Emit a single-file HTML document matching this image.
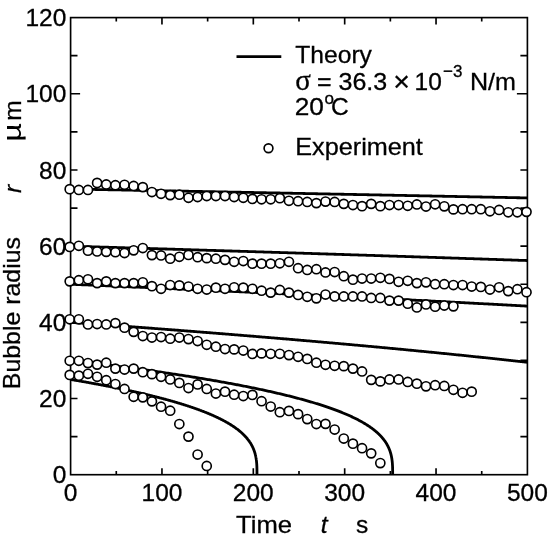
<!DOCTYPE html>
<html><head><meta charset="utf-8"><title>Bubble radius vs time</title>
<style>html,body{margin:0;padding:0;background:#fff}svg{display:block}text{font-family:"Liberation Sans","Noto Sans CJK JP",sans-serif;fill:#000}text.ser{font-family:"Liberation Serif",serif}text.cjk{font-family:"Noto Sans CJK JP",sans-serif}</style>
</head><body>
<svg width="550" height="539" viewBox="0 0 550 539">
<rect width="550" height="539" fill="#fff"/>
<g fill="none" stroke="#000" stroke-width="2.8" stroke-linejoin="round">
<path d="M70.60 189.01 L71.74 189.03 L72.88 189.06 L74.03 189.08 L75.17 189.10 L76.31 189.12 L77.45 189.14 L78.59 189.16 L79.74 189.19 L80.88 189.21 L82.02 189.23 L83.16 189.25 L84.30 189.27 L85.45 189.29 L86.59 189.32 L87.73 189.34 L88.87 189.36 L90.01 189.38 L91.16 189.40 L92.30 189.42 L93.44 189.45 L94.58 189.47 L95.72 189.49 L96.87 189.51 L98.01 189.53 L99.15 189.55 L100.29 189.58 L101.43 189.60 L102.58 189.62 L103.72 189.64 L104.86 189.66 L106.00 189.68 L107.14 189.71 L108.29 189.73 L109.43 189.75 L110.57 189.77 L111.71 189.79 L112.85 189.81 L114.00 189.84 L115.14 189.86 L116.28 189.88 L117.42 189.90 L118.56 189.92 L119.71 189.94 L120.85 189.97 L121.99 189.99 L123.13 190.01 L124.27 190.03 L125.42 190.05 L126.56 190.08 L127.70 190.10 L128.84 190.12 L129.98 190.14 L131.13 190.16 L132.27 190.18 L133.41 190.21 L134.55 190.23 L135.69 190.25 L136.84 190.27 L137.98 190.29 L139.12 190.32 L140.26 190.34 L141.40 190.36 L142.55 190.38 L143.69 190.40 L144.83 190.42 L145.97 190.45 L147.11 190.47 L148.26 190.49 L149.40 190.51 L150.54 190.53 L151.68 190.56 L152.82 190.58 L153.97 190.60 L155.11 190.62 L156.25 190.64 L157.39 190.66 L158.53 190.69 L159.68 190.71 L160.82 190.73 L161.96 190.75 L163.10 190.77 L164.24 190.80 L165.39 190.82 L166.53 190.84 L167.67 190.86 L168.81 190.88 L169.95 190.91 L171.10 190.93 L172.24 190.95 L173.38 190.97 L174.52 190.99 L175.66 191.01 L176.81 191.04 L177.95 191.06 L179.09 191.08 L180.23 191.10 L181.37 191.12 L182.52 191.15 L183.66 191.17 L184.80 191.19 L185.94 191.21 L187.08 191.23 L188.23 191.26 L189.37 191.28 L190.51 191.30 L191.65 191.32 L192.79 191.34 L193.94 191.37 L195.08 191.39 L196.22 191.41 L197.36 191.43 L198.50 191.45 L199.65 191.48 L200.79 191.50 L201.93 191.52 L203.07 191.54 L204.21 191.56 L205.36 191.59 L206.50 191.61 L207.64 191.63 L208.78 191.65 L209.92 191.67 L211.07 191.70 L212.21 191.72 L213.35 191.74 L214.49 191.76 L215.63 191.78 L216.78 191.81 L217.92 191.83 L219.06 191.85 L220.20 191.87 L221.34 191.89 L222.49 191.92 L223.63 191.94 L224.77 191.96 L225.91 191.98 L227.05 192.00 L228.20 192.03 L229.34 192.05 L230.48 192.07 L231.62 192.09 L232.76 192.11 L233.91 192.14 L235.05 192.16 L236.19 192.18 L237.33 192.20 L238.47 192.23 L239.62 192.25 L240.76 192.27 L241.90 192.29 L243.04 192.31 L244.18 192.34 L245.33 192.36 L246.47 192.38 L247.61 192.40 L248.75 192.42 L249.89 192.45 L251.04 192.47 L252.18 192.49 L253.32 192.51 L254.46 192.54 L255.60 192.56 L256.75 192.58 L257.89 192.60 L259.03 192.62 L260.17 192.65 L261.31 192.67 L262.46 192.69 L263.60 192.71 L264.74 192.73 L265.88 192.76 L267.02 192.78 L268.17 192.80 L269.31 192.82 L270.45 192.85 L271.59 192.87 L272.73 192.89 L273.88 192.91 L275.02 192.93 L276.16 192.96 L277.30 192.98 L278.44 193.00 L279.59 193.02 L280.73 193.05 L281.87 193.07 L283.01 193.09 L284.15 193.11 L285.30 193.13 L286.44 193.16 L287.58 193.18 L288.72 193.20 L289.86 193.22 L291.01 193.25 L292.15 193.27 L293.29 193.29 L294.43 193.31 L295.57 193.34 L296.72 193.36 L297.86 193.38 L299.00 193.40 L300.14 193.42 L301.28 193.45 L302.43 193.47 L303.57 193.49 L304.71 193.51 L305.85 193.54 L306.99 193.56 L308.14 193.58 L309.28 193.60 L310.42 193.62 L311.56 193.65 L312.70 193.67 L313.85 193.69 L314.99 193.71 L316.13 193.74 L317.27 193.76 L318.41 193.78 L319.56 193.80 L320.70 193.83 L321.84 193.85 L322.98 193.87 L324.12 193.89 L325.27 193.92 L326.41 193.94 L327.55 193.96 L328.69 193.98 L329.83 194.01 L330.98 194.03 L332.12 194.05 L333.26 194.07 L334.40 194.09 L335.54 194.12 L336.69 194.14 L337.83 194.16 L338.97 194.18 L340.11 194.21 L341.25 194.23 L342.40 194.25 L343.54 194.27 L344.68 194.30 L345.82 194.32 L346.96 194.34 L348.11 194.36 L349.25 194.39 L350.39 194.41 L351.53 194.43 L352.67 194.45 L353.82 194.48 L354.96 194.50 L356.10 194.52 L357.24 194.54 L358.38 194.57 L359.53 194.59 L360.67 194.61 L361.81 194.63 L362.95 194.66 L364.09 194.68 L365.24 194.70 L366.38 194.72 L367.52 194.75 L368.66 194.77 L369.80 194.79 L370.95 194.81 L372.09 194.84 L373.23 194.86 L374.37 194.88 L375.51 194.90 L376.66 194.93 L377.80 194.95 L378.94 194.97 L380.08 194.99 L381.22 195.02 L382.37 195.04 L383.51 195.06 L384.65 195.08 L385.79 195.11 L386.93 195.13 L388.08 195.15 L389.22 195.17 L390.36 195.20 L391.50 195.22 L392.64 195.24 L393.79 195.26 L394.93 195.29 L396.07 195.31 L397.21 195.33 L398.35 195.35 L399.50 195.38 L400.64 195.40 L401.78 195.42 L402.92 195.45 L404.06 195.47 L405.21 195.49 L406.35 195.51 L407.49 195.54 L408.63 195.56 L409.77 195.58 L410.92 195.60 L412.06 195.63 L413.20 195.65 L414.34 195.67 L415.48 195.69 L416.63 195.72 L417.77 195.74 L418.91 195.76 L420.05 195.78 L421.19 195.81 L422.34 195.83 L423.48 195.85 L424.62 195.88 L425.76 195.90 L426.90 195.92 L428.05 195.94 L429.19 195.97 L430.33 195.99 L431.47 196.01 L432.61 196.03 L433.76 196.06 L434.90 196.08 L436.04 196.10 L437.18 196.13 L438.32 196.15 L439.47 196.17 L440.61 196.19 L441.75 196.22 L442.89 196.24 L444.03 196.26 L445.18 196.28 L446.32 196.31 L447.46 196.33 L448.60 196.35 L449.74 196.38 L450.89 196.40 L452.03 196.42 L453.17 196.44 L454.31 196.47 L455.45 196.49 L456.60 196.51 L457.74 196.54 L458.88 196.56 L460.02 196.58 L461.16 196.60 L462.31 196.63 L463.45 196.65 L464.59 196.67 L465.73 196.69 L466.87 196.72 L468.02 196.74 L469.16 196.76 L470.30 196.79 L471.44 196.81 L472.58 196.83 L473.73 196.85 L474.87 196.88 L476.01 196.90 L477.15 196.92 L478.29 196.95 L479.44 196.97 L480.58 196.99 L481.72 197.01 L482.86 197.04 L484.00 197.06 L485.15 197.08 L486.29 197.11 L487.43 197.13 L488.57 197.15 L489.71 197.17 L490.86 197.20 L492.00 197.22 L493.14 197.24 L494.28 197.27 L495.42 197.29 L496.57 197.31 L497.71 197.34 L498.85 197.36 L499.99 197.38 L501.13 197.40 L502.28 197.43 L503.42 197.45 L504.56 197.47 L505.70 197.50 L506.84 197.52 L507.99 197.54 L509.13 197.56 L510.27 197.59 L511.41 197.61 L512.55 197.63 L513.70 197.66 L514.84 197.68 L515.98 197.70 L517.12 197.73 L518.26 197.75 L519.41 197.77 L520.55 197.79 L521.69 197.82 L522.83 197.84 L523.97 197.86 L525.12 197.89 L526.26 197.91 L527.40 197.93"/>
<path d="M70.60 246.15 L71.74 246.18 L72.88 246.22 L74.03 246.25 L75.17 246.29 L76.31 246.32 L77.45 246.35 L78.59 246.39 L79.74 246.42 L80.88 246.45 L82.02 246.49 L83.16 246.52 L84.30 246.56 L85.45 246.59 L86.59 246.62 L87.73 246.66 L88.87 246.69 L90.01 246.73 L91.16 246.76 L92.30 246.79 L93.44 246.83 L94.58 246.86 L95.72 246.90 L96.87 246.93 L98.01 246.96 L99.15 247.00 L100.29 247.03 L101.43 247.07 L102.58 247.10 L103.72 247.13 L104.86 247.17 L106.00 247.20 L107.14 247.24 L108.29 247.27 L109.43 247.30 L110.57 247.34 L111.71 247.37 L112.85 247.41 L114.00 247.44 L115.14 247.47 L116.28 247.51 L117.42 247.54 L118.56 247.58 L119.71 247.61 L120.85 247.65 L121.99 247.68 L123.13 247.71 L124.27 247.75 L125.42 247.78 L126.56 247.82 L127.70 247.85 L128.84 247.89 L129.98 247.92 L131.13 247.95 L132.27 247.99 L133.41 248.02 L134.55 248.06 L135.69 248.09 L136.84 248.13 L137.98 248.16 L139.12 248.19 L140.26 248.23 L141.40 248.26 L142.55 248.30 L143.69 248.33 L144.83 248.37 L145.97 248.40 L147.11 248.44 L148.26 248.47 L149.40 248.50 L150.54 248.54 L151.68 248.57 L152.82 248.61 L153.97 248.64 L155.11 248.68 L156.25 248.71 L157.39 248.75 L158.53 248.78 L159.68 248.81 L160.82 248.85 L161.96 248.88 L163.10 248.92 L164.24 248.95 L165.39 248.99 L166.53 249.02 L167.67 249.06 L168.81 249.09 L169.95 249.13 L171.10 249.16 L172.24 249.20 L173.38 249.23 L174.52 249.27 L175.66 249.30 L176.81 249.33 L177.95 249.37 L179.09 249.40 L180.23 249.44 L181.37 249.47 L182.52 249.51 L183.66 249.54 L184.80 249.58 L185.94 249.61 L187.08 249.65 L188.23 249.68 L189.37 249.72 L190.51 249.75 L191.65 249.79 L192.79 249.82 L193.94 249.86 L195.08 249.89 L196.22 249.93 L197.36 249.96 L198.50 250.00 L199.65 250.03 L200.79 250.07 L201.93 250.10 L203.07 250.14 L204.21 250.17 L205.36 250.21 L206.50 250.24 L207.64 250.28 L208.78 250.31 L209.92 250.35 L211.07 250.38 L212.21 250.42 L213.35 250.45 L214.49 250.49 L215.63 250.52 L216.78 250.56 L217.92 250.59 L219.06 250.63 L220.20 250.66 L221.34 250.70 L222.49 250.73 L223.63 250.77 L224.77 250.80 L225.91 250.84 L227.05 250.87 L228.20 250.91 L229.34 250.94 L230.48 250.98 L231.62 251.01 L232.76 251.05 L233.91 251.08 L235.05 251.12 L236.19 251.16 L237.33 251.19 L238.47 251.23 L239.62 251.26 L240.76 251.30 L241.90 251.33 L243.04 251.37 L244.18 251.40 L245.33 251.44 L246.47 251.47 L247.61 251.51 L248.75 251.54 L249.89 251.58 L251.04 251.61 L252.18 251.65 L253.32 251.69 L254.46 251.72 L255.60 251.76 L256.75 251.79 L257.89 251.83 L259.03 251.86 L260.17 251.90 L261.31 251.93 L262.46 251.97 L263.60 252.01 L264.74 252.04 L265.88 252.08 L267.02 252.11 L268.17 252.15 L269.31 252.18 L270.45 252.22 L271.59 252.25 L272.73 252.29 L273.88 252.33 L275.02 252.36 L276.16 252.40 L277.30 252.43 L278.44 252.47 L279.59 252.50 L280.73 252.54 L281.87 252.58 L283.01 252.61 L284.15 252.65 L285.30 252.68 L286.44 252.72 L287.58 252.75 L288.72 252.79 L289.86 252.83 L291.01 252.86 L292.15 252.90 L293.29 252.93 L294.43 252.97 L295.57 253.01 L296.72 253.04 L297.86 253.08 L299.00 253.11 L300.14 253.15 L301.28 253.19 L302.43 253.22 L303.57 253.26 L304.71 253.29 L305.85 253.33 L306.99 253.37 L308.14 253.40 L309.28 253.44 L310.42 253.47 L311.56 253.51 L312.70 253.55 L313.85 253.58 L314.99 253.62 L316.13 253.65 L317.27 253.69 L318.41 253.73 L319.56 253.76 L320.70 253.80 L321.84 253.83 L322.98 253.87 L324.12 253.91 L325.27 253.94 L326.41 253.98 L327.55 254.02 L328.69 254.05 L329.83 254.09 L330.98 254.12 L332.12 254.16 L333.26 254.20 L334.40 254.23 L335.54 254.27 L336.69 254.31 L337.83 254.34 L338.97 254.38 L340.11 254.41 L341.25 254.45 L342.40 254.49 L343.54 254.52 L344.68 254.56 L345.82 254.60 L346.96 254.63 L348.11 254.67 L349.25 254.71 L350.39 254.74 L351.53 254.78 L352.67 254.82 L353.82 254.85 L354.96 254.89 L356.10 254.92 L357.24 254.96 L358.38 255.00 L359.53 255.03 L360.67 255.07 L361.81 255.11 L362.95 255.14 L364.09 255.18 L365.24 255.22 L366.38 255.25 L367.52 255.29 L368.66 255.33 L369.80 255.36 L370.95 255.40 L372.09 255.44 L373.23 255.47 L374.37 255.51 L375.51 255.55 L376.66 255.58 L377.80 255.62 L378.94 255.66 L380.08 255.69 L381.22 255.73 L382.37 255.77 L383.51 255.80 L384.65 255.84 L385.79 255.88 L386.93 255.92 L388.08 255.95 L389.22 255.99 L390.36 256.03 L391.50 256.06 L392.64 256.10 L393.79 256.14 L394.93 256.17 L396.07 256.21 L397.21 256.25 L398.35 256.28 L399.50 256.32 L400.64 256.36 L401.78 256.40 L402.92 256.43 L404.06 256.47 L405.21 256.51 L406.35 256.54 L407.49 256.58 L408.63 256.62 L409.77 256.65 L410.92 256.69 L412.06 256.73 L413.20 256.77 L414.34 256.80 L415.48 256.84 L416.63 256.88 L417.77 256.91 L418.91 256.95 L420.05 256.99 L421.19 257.03 L422.34 257.06 L423.48 257.10 L424.62 257.14 L425.76 257.18 L426.90 257.21 L428.05 257.25 L429.19 257.29 L430.33 257.32 L431.47 257.36 L432.61 257.40 L433.76 257.44 L434.90 257.47 L436.04 257.51 L437.18 257.55 L438.32 257.59 L439.47 257.62 L440.61 257.66 L441.75 257.70 L442.89 257.74 L444.03 257.77 L445.18 257.81 L446.32 257.85 L447.46 257.89 L448.60 257.92 L449.74 257.96 L450.89 258.00 L452.03 258.04 L453.17 258.07 L454.31 258.11 L455.45 258.15 L456.60 258.19 L457.74 258.22 L458.88 258.26 L460.02 258.30 L461.16 258.34 L462.31 258.37 L463.45 258.41 L464.59 258.45 L465.73 258.49 L466.87 258.53 L468.02 258.56 L469.16 258.60 L470.30 258.64 L471.44 258.68 L472.58 258.71 L473.73 258.75 L474.87 258.79 L476.01 258.83 L477.15 258.87 L478.29 258.90 L479.44 258.94 L480.58 258.98 L481.72 259.02 L482.86 259.06 L484.00 259.09 L485.15 259.13 L486.29 259.17 L487.43 259.21 L488.57 259.25 L489.71 259.28 L490.86 259.32 L492.00 259.36 L493.14 259.40 L494.28 259.44 L495.42 259.47 L496.57 259.51 L497.71 259.55 L498.85 259.59 L499.99 259.63 L501.13 259.66 L502.28 259.70 L503.42 259.74 L504.56 259.78 L505.70 259.82 L506.84 259.85 L507.99 259.89 L509.13 259.93 L510.27 259.97 L511.41 260.01 L512.55 260.05 L513.70 260.08 L514.84 260.12 L515.98 260.16 L517.12 260.20 L518.26 260.24 L519.41 260.28 L520.55 260.31 L521.69 260.35 L522.83 260.39 L523.97 260.43 L525.12 260.47 L526.26 260.51 L527.40 260.54"/>
<path d="M70.60 284.24 L71.74 284.29 L72.88 284.34 L74.03 284.39 L75.17 284.44 L76.31 284.49 L77.45 284.53 L78.59 284.58 L79.74 284.63 L80.88 284.68 L82.02 284.73 L83.16 284.78 L84.30 284.83 L85.45 284.88 L86.59 284.92 L87.73 284.97 L88.87 285.02 L90.01 285.07 L91.16 285.12 L92.30 285.17 L93.44 285.22 L94.58 285.27 L95.72 285.32 L96.87 285.37 L98.01 285.42 L99.15 285.47 L100.29 285.51 L101.43 285.56 L102.58 285.61 L103.72 285.66 L104.86 285.71 L106.00 285.76 L107.14 285.81 L108.29 285.86 L109.43 285.91 L110.57 285.96 L111.71 286.01 L112.85 286.06 L114.00 286.11 L115.14 286.16 L116.28 286.21 L117.42 286.26 L118.56 286.31 L119.71 286.36 L120.85 286.41 L121.99 286.46 L123.13 286.51 L124.27 286.56 L125.42 286.60 L126.56 286.65 L127.70 286.70 L128.84 286.75 L129.98 286.80 L131.13 286.85 L132.27 286.90 L133.41 286.95 L134.55 287.00 L135.69 287.05 L136.84 287.10 L137.98 287.15 L139.12 287.21 L140.26 287.26 L141.40 287.31 L142.55 287.36 L143.69 287.41 L144.83 287.46 L145.97 287.51 L147.11 287.56 L148.26 287.61 L149.40 287.66 L150.54 287.71 L151.68 287.76 L152.82 287.81 L153.97 287.86 L155.11 287.91 L156.25 287.96 L157.39 288.01 L158.53 288.06 L159.68 288.11 L160.82 288.16 L161.96 288.21 L163.10 288.26 L164.24 288.32 L165.39 288.37 L166.53 288.42 L167.67 288.47 L168.81 288.52 L169.95 288.57 L171.10 288.62 L172.24 288.67 L173.38 288.72 L174.52 288.77 L175.66 288.82 L176.81 288.88 L177.95 288.93 L179.09 288.98 L180.23 289.03 L181.37 289.08 L182.52 289.13 L183.66 289.18 L184.80 289.23 L185.94 289.29 L187.08 289.34 L188.23 289.39 L189.37 289.44 L190.51 289.49 L191.65 289.54 L192.79 289.59 L193.94 289.65 L195.08 289.70 L196.22 289.75 L197.36 289.80 L198.50 289.85 L199.65 289.90 L200.79 289.95 L201.93 290.01 L203.07 290.06 L204.21 290.11 L205.36 290.16 L206.50 290.21 L207.64 290.27 L208.78 290.32 L209.92 290.37 L211.07 290.42 L212.21 290.47 L213.35 290.52 L214.49 290.58 L215.63 290.63 L216.78 290.68 L217.92 290.73 L219.06 290.79 L220.20 290.84 L221.34 290.89 L222.49 290.94 L223.63 290.99 L224.77 291.05 L225.91 291.10 L227.05 291.15 L228.20 291.20 L229.34 291.26 L230.48 291.31 L231.62 291.36 L232.76 291.41 L233.91 291.47 L235.05 291.52 L236.19 291.57 L237.33 291.62 L238.47 291.68 L239.62 291.73 L240.76 291.78 L241.90 291.83 L243.04 291.89 L244.18 291.94 L245.33 291.99 L246.47 292.05 L247.61 292.10 L248.75 292.15 L249.89 292.20 L251.04 292.26 L252.18 292.31 L253.32 292.36 L254.46 292.42 L255.60 292.47 L256.75 292.52 L257.89 292.58 L259.03 292.63 L260.17 292.68 L261.31 292.74 L262.46 292.79 L263.60 292.84 L264.74 292.90 L265.88 292.95 L267.02 293.00 L268.17 293.06 L269.31 293.11 L270.45 293.16 L271.59 293.22 L272.73 293.27 L273.88 293.32 L275.02 293.38 L276.16 293.43 L277.30 293.48 L278.44 293.54 L279.59 293.59 L280.73 293.65 L281.87 293.70 L283.01 293.75 L284.15 293.81 L285.30 293.86 L286.44 293.91 L287.58 293.97 L288.72 294.02 L289.86 294.08 L291.01 294.13 L292.15 294.19 L293.29 294.24 L294.43 294.29 L295.57 294.35 L296.72 294.40 L297.86 294.46 L299.00 294.51 L300.14 294.56 L301.28 294.62 L302.43 294.67 L303.57 294.73 L304.71 294.78 L305.85 294.84 L306.99 294.89 L308.14 294.95 L309.28 295.00 L310.42 295.06 L311.56 295.11 L312.70 295.16 L313.85 295.22 L314.99 295.27 L316.13 295.33 L317.27 295.38 L318.41 295.44 L319.56 295.49 L320.70 295.55 L321.84 295.60 L322.98 295.66 L324.12 295.71 L325.27 295.77 L326.41 295.82 L327.55 295.88 L328.69 295.93 L329.83 295.99 L330.98 296.04 L332.12 296.10 L333.26 296.16 L334.40 296.21 L335.54 296.27 L336.69 296.32 L337.83 296.38 L338.97 296.43 L340.11 296.49 L341.25 296.54 L342.40 296.60 L343.54 296.65 L344.68 296.71 L345.82 296.77 L346.96 296.82 L348.11 296.88 L349.25 296.93 L350.39 296.99 L351.53 297.05 L352.67 297.10 L353.82 297.16 L354.96 297.21 L356.10 297.27 L357.24 297.32 L358.38 297.38 L359.53 297.44 L360.67 297.49 L361.81 297.55 L362.95 297.61 L364.09 297.66 L365.24 297.72 L366.38 297.77 L367.52 297.83 L368.66 297.89 L369.80 297.94 L370.95 298.00 L372.09 298.06 L373.23 298.11 L374.37 298.17 L375.51 298.23 L376.66 298.28 L377.80 298.34 L378.94 298.40 L380.08 298.45 L381.22 298.51 L382.37 298.57 L383.51 298.62 L384.65 298.68 L385.79 298.74 L386.93 298.79 L388.08 298.85 L389.22 298.91 L390.36 298.97 L391.50 299.02 L392.64 299.08 L393.79 299.14 L394.93 299.19 L396.07 299.25 L397.21 299.31 L398.35 299.37 L399.50 299.42 L400.64 299.48 L401.78 299.54 L402.92 299.60 L404.06 299.65 L405.21 299.71 L406.35 299.77 L407.49 299.83 L408.63 299.88 L409.77 299.94 L410.92 300.00 L412.06 300.06 L413.20 300.12 L414.34 300.17 L415.48 300.23 L416.63 300.29 L417.77 300.35 L418.91 300.41 L420.05 300.46 L421.19 300.52 L422.34 300.58 L423.48 300.64 L424.62 300.70 L425.76 300.75 L426.90 300.81 L428.05 300.87 L429.19 300.93 L430.33 300.99 L431.47 301.05 L432.61 301.11 L433.76 301.16 L434.90 301.22 L436.04 301.28 L437.18 301.34 L438.32 301.40 L439.47 301.46 L440.61 301.52 L441.75 301.57 L442.89 301.63 L444.03 301.69 L445.18 301.75 L446.32 301.81 L447.46 301.87 L448.60 301.93 L449.74 301.99 L450.89 302.05 L452.03 302.11 L453.17 302.17 L454.31 302.22 L455.45 302.28 L456.60 302.34 L457.74 302.40 L458.88 302.46 L460.02 302.52 L461.16 302.58 L462.31 302.64 L463.45 302.70 L464.59 302.76 L465.73 302.82 L466.87 302.88 L468.02 302.94 L469.16 303.00 L470.30 303.06 L471.44 303.12 L472.58 303.18 L473.73 303.24 L474.87 303.30 L476.01 303.36 L477.15 303.42 L478.29 303.48 L479.44 303.54 L480.58 303.60 L481.72 303.66 L482.86 303.72 L484.00 303.78 L485.15 303.84 L486.29 303.90 L487.43 303.96 L488.57 304.02 L489.71 304.08 L490.86 304.14 L492.00 304.20 L493.14 304.26 L494.28 304.33 L495.42 304.39 L496.57 304.45 L497.71 304.51 L498.85 304.57 L499.99 304.63 L501.13 304.69 L502.28 304.75 L503.42 304.81 L504.56 304.87 L505.70 304.94 L506.84 305.00 L507.99 305.06 L509.13 305.12 L510.27 305.18 L511.41 305.24 L512.55 305.30 L513.70 305.36 L514.84 305.43 L515.98 305.49 L517.12 305.55 L518.26 305.61 L519.41 305.67 L520.55 305.73 L521.69 305.80 L522.83 305.86 L523.97 305.92 L525.12 305.98 L526.26 306.04 L527.40 306.11"/>
<path d="M70.60 322.33 L71.74 322.41 L72.88 322.50 L74.03 322.58 L75.17 322.66 L76.31 322.74 L77.45 322.82 L78.59 322.90 L79.74 322.98 L80.88 323.07 L82.02 323.15 L83.16 323.23 L84.30 323.31 L85.45 323.39 L86.59 323.48 L87.73 323.56 L88.87 323.64 L90.01 323.72 L91.16 323.81 L92.30 323.89 L93.44 323.97 L94.58 324.05 L95.72 324.14 L96.87 324.22 L98.01 324.30 L99.15 324.38 L100.29 324.47 L101.43 324.55 L102.58 324.63 L103.72 324.72 L104.86 324.80 L106.00 324.88 L107.14 324.97 L108.29 325.05 L109.43 325.13 L110.57 325.22 L111.71 325.30 L112.85 325.38 L114.00 325.47 L115.14 325.55 L116.28 325.63 L117.42 325.72 L118.56 325.80 L119.71 325.89 L120.85 325.97 L121.99 326.05 L123.13 326.14 L124.27 326.22 L125.42 326.31 L126.56 326.39 L127.70 326.48 L128.84 326.56 L129.98 326.65 L131.13 326.73 L132.27 326.82 L133.41 326.90 L134.55 326.99 L135.69 327.07 L136.84 327.16 L137.98 327.24 L139.12 327.33 L140.26 327.41 L141.40 327.50 L142.55 327.58 L143.69 327.67 L144.83 327.75 L145.97 327.84 L147.11 327.93 L148.26 328.01 L149.40 328.10 L150.54 328.18 L151.68 328.27 L152.82 328.36 L153.97 328.44 L155.11 328.53 L156.25 328.62 L157.39 328.70 L158.53 328.79 L159.68 328.88 L160.82 328.96 L161.96 329.05 L163.10 329.14 L164.24 329.22 L165.39 329.31 L166.53 329.40 L167.67 329.48 L168.81 329.57 L169.95 329.66 L171.10 329.75 L172.24 329.83 L173.38 329.92 L174.52 330.01 L175.66 330.10 L176.81 330.19 L177.95 330.27 L179.09 330.36 L180.23 330.45 L181.37 330.54 L182.52 330.63 L183.66 330.71 L184.80 330.80 L185.94 330.89 L187.08 330.98 L188.23 331.07 L189.37 331.16 L190.51 331.25 L191.65 331.33 L192.79 331.42 L193.94 331.51 L195.08 331.60 L196.22 331.69 L197.36 331.78 L198.50 331.87 L199.65 331.96 L200.79 332.05 L201.93 332.14 L203.07 332.23 L204.21 332.32 L205.36 332.41 L206.50 332.50 L207.64 332.59 L208.78 332.68 L209.92 332.77 L211.07 332.86 L212.21 332.95 L213.35 333.04 L214.49 333.13 L215.63 333.22 L216.78 333.31 L217.92 333.40 L219.06 333.49 L220.20 333.59 L221.34 333.68 L222.49 333.77 L223.63 333.86 L224.77 333.95 L225.91 334.04 L227.05 334.13 L228.20 334.22 L229.34 334.32 L230.48 334.41 L231.62 334.50 L232.76 334.59 L233.91 334.68 L235.05 334.78 L236.19 334.87 L237.33 334.96 L238.47 335.05 L239.62 335.15 L240.76 335.24 L241.90 335.33 L243.04 335.42 L244.18 335.52 L245.33 335.61 L246.47 335.70 L247.61 335.80 L248.75 335.89 L249.89 335.98 L251.04 336.08 L252.18 336.17 L253.32 336.26 L254.46 336.36 L255.60 336.45 L256.75 336.55 L257.89 336.64 L259.03 336.73 L260.17 336.83 L261.31 336.92 L262.46 337.02 L263.60 337.11 L264.74 337.21 L265.88 337.30 L267.02 337.40 L268.17 337.49 L269.31 337.59 L270.45 337.68 L271.59 337.78 L272.73 337.87 L273.88 337.97 L275.02 338.06 L276.16 338.16 L277.30 338.26 L278.44 338.35 L279.59 338.45 L280.73 338.54 L281.87 338.64 L283.01 338.74 L284.15 338.83 L285.30 338.93 L286.44 339.02 L287.58 339.12 L288.72 339.22 L289.86 339.32 L291.01 339.41 L292.15 339.51 L293.29 339.61 L294.43 339.70 L295.57 339.80 L296.72 339.90 L297.86 340.00 L299.00 340.09 L300.14 340.19 L301.28 340.29 L302.43 340.39 L303.57 340.49 L304.71 340.58 L305.85 340.68 L306.99 340.78 L308.14 340.88 L309.28 340.98 L310.42 341.08 L311.56 341.18 L312.70 341.28 L313.85 341.37 L314.99 341.47 L316.13 341.57 L317.27 341.67 L318.41 341.77 L319.56 341.87 L320.70 341.97 L321.84 342.07 L322.98 342.17 L324.12 342.27 L325.27 342.37 L326.41 342.47 L327.55 342.57 L328.69 342.67 L329.83 342.77 L330.98 342.87 L332.12 342.98 L333.26 343.08 L334.40 343.18 L335.54 343.28 L336.69 343.38 L337.83 343.48 L338.97 343.58 L340.11 343.69 L341.25 343.79 L342.40 343.89 L343.54 343.99 L344.68 344.09 L345.82 344.20 L346.96 344.30 L348.11 344.40 L349.25 344.50 L350.39 344.61 L351.53 344.71 L352.67 344.81 L353.82 344.92 L354.96 345.02 L356.10 345.12 L357.24 345.23 L358.38 345.33 L359.53 345.43 L360.67 345.54 L361.81 345.64 L362.95 345.75 L364.09 345.85 L365.24 345.96 L366.38 346.06 L367.52 346.16 L368.66 346.27 L369.80 346.37 L370.95 346.48 L372.09 346.58 L373.23 346.69 L374.37 346.80 L375.51 346.90 L376.66 347.01 L377.80 347.11 L378.94 347.22 L380.08 347.33 L381.22 347.43 L382.37 347.54 L383.51 347.64 L384.65 347.75 L385.79 347.86 L386.93 347.96 L388.08 348.07 L389.22 348.18 L390.36 348.29 L391.50 348.39 L392.64 348.50 L393.79 348.61 L394.93 348.72 L396.07 348.83 L397.21 348.93 L398.35 349.04 L399.50 349.15 L400.64 349.26 L401.78 349.37 L402.92 349.48 L404.06 349.59 L405.21 349.70 L406.35 349.80 L407.49 349.91 L408.63 350.02 L409.77 350.13 L410.92 350.24 L412.06 350.35 L413.20 350.46 L414.34 350.57 L415.48 350.68 L416.63 350.79 L417.77 350.91 L418.91 351.02 L420.05 351.13 L421.19 351.24 L422.34 351.35 L423.48 351.46 L424.62 351.57 L425.76 351.69 L426.90 351.80 L428.05 351.91 L429.19 352.02 L430.33 352.13 L431.47 352.25 L432.61 352.36 L433.76 352.47 L434.90 352.59 L436.04 352.70 L437.18 352.81 L438.32 352.93 L439.47 353.04 L440.61 353.15 L441.75 353.27 L442.89 353.38 L444.03 353.50 L445.18 353.61 L446.32 353.73 L447.46 353.84 L448.60 353.96 L449.74 354.07 L450.89 354.19 L452.03 354.30 L453.17 354.42 L454.31 354.53 L455.45 354.65 L456.60 354.77 L457.74 354.88 L458.88 355.00 L460.02 355.11 L461.16 355.23 L462.31 355.35 L463.45 355.47 L464.59 355.58 L465.73 355.70 L466.87 355.82 L468.02 355.94 L469.16 356.05 L470.30 356.17 L471.44 356.29 L472.58 356.41 L473.73 356.53 L474.87 356.65 L476.01 356.77 L477.15 356.89 L478.29 357.01 L479.44 357.12 L480.58 357.24 L481.72 357.36 L482.86 357.49 L484.00 357.61 L485.15 357.73 L486.29 357.85 L487.43 357.97 L488.57 358.09 L489.71 358.21 L490.86 358.33 L492.00 358.45 L493.14 358.58 L494.28 358.70 L495.42 358.82 L496.57 358.94 L497.71 359.07 L498.85 359.19 L499.99 359.31 L501.13 359.43 L502.28 359.56 L503.42 359.68 L504.56 359.81 L505.70 359.93 L506.84 360.05 L507.99 360.18 L509.13 360.30 L510.27 360.43 L511.41 360.55 L512.55 360.68 L513.70 360.80 L514.84 360.93 L515.98 361.06 L517.12 361.18 L518.26 361.31 L519.41 361.44 L520.55 361.56 L521.69 361.69 L522.83 361.82 L523.97 361.94 L525.12 362.07 L526.26 362.20 L527.40 362.33"/>
<path d="M70.60 360.43 L72.21 360.61 L73.81 360.80 L75.41 360.99 L77.01 361.18 L78.60 361.37 L80.19 361.56 L81.77 361.74 L83.35 361.93 L84.93 362.12 L86.50 362.31 L88.07 362.50 L89.63 362.69 L91.19 362.88 L92.75 363.07 L94.30 363.26 L95.85 363.45 L97.39 363.64 L98.93 363.83 L100.47 364.03 L102.00 364.22 L103.53 364.41 L105.05 364.60 L106.57 364.79 L108.09 364.98 L109.60 365.18 L111.11 365.37 L112.61 365.56 L114.11 365.75 L115.61 365.95 L117.10 366.14 L118.58 366.33 L120.07 366.52 L121.55 366.72 L123.02 366.91 L124.49 367.11 L125.96 367.30 L127.42 367.49 L128.88 367.69 L130.34 367.88 L131.79 368.08 L133.24 368.27 L134.68 368.47 L136.12 368.66 L137.56 368.86 L138.99 369.05 L140.41 369.25 L141.84 369.45 L143.26 369.64 L144.67 369.84 L146.08 370.04 L147.49 370.23 L148.89 370.43 L150.29 370.63 L151.69 370.82 L153.08 371.02 L154.46 371.22 L155.85 371.42 L157.22 371.62 L158.60 371.81 L159.97 372.01 L161.34 372.21 L162.70 372.41 L164.06 372.61 L165.41 372.81 L166.76 373.01 L168.11 373.21 L169.45 373.41 L170.79 373.61 L172.13 373.81 L173.46 374.01 L174.78 374.21 L176.11 374.41 L177.42 374.61 L178.74 374.81 L180.05 375.02 L181.35 375.22 L182.66 375.42 L183.96 375.62 L185.25 375.83 L186.54 376.03 L187.83 376.23 L189.11 376.43 L190.39 376.64 L191.66 376.84 L192.93 377.04 L194.20 377.25 L195.46 377.45 L196.72 377.66 L197.97 377.86 L199.22 378.07 L200.47 378.27 L201.71 378.48 L202.95 378.68 L204.18 378.89 L205.41 379.10 L206.64 379.30 L207.86 379.51 L209.08 379.72 L210.29 379.92 L211.50 380.13 L212.70 380.34 L213.91 380.54 L215.10 380.75 L216.30 380.96 L217.49 381.17 L218.67 381.38 L219.85 381.59 L221.03 381.80 L222.21 382.01 L223.37 382.22 L224.54 382.43 L225.70 382.64 L226.86 382.85 L228.01 383.06 L229.16 383.27 L230.31 383.48 L231.45 383.69 L232.59 383.90 L233.72 384.11 L234.85 384.33 L235.97 384.54 L237.09 384.75 L238.21 384.96 L239.32 385.18 L240.43 385.39 L241.54 385.61 L242.64 385.82 L243.74 386.03 L244.83 386.25 L245.92 386.46 L247.00 386.68 L248.08 386.89 L249.16 387.11 L250.23 387.33 L251.30 387.54 L252.37 387.76 L253.43 387.97 L254.49 388.19 L255.54 388.41 L256.59 388.63 L257.63 388.84 L258.67 389.06 L259.71 389.28 L260.74 389.50 L261.77 389.72 L262.79 389.94 L263.81 390.16 L264.83 390.38 L265.84 390.60 L266.85 390.82 L267.86 391.04 L268.86 391.26 L269.85 391.48 L270.85 391.70 L271.83 391.93 L272.82 392.15 L273.80 392.37 L274.77 392.60 L275.75 392.82 L276.72 393.04 L277.68 393.27 L278.64 393.49 L279.60 393.72 L280.55 393.94 L281.50 394.17 L282.44 394.39 L283.38 394.62 L284.32 394.84 L285.25 395.07 L286.18 395.30 L287.10 395.52 L288.02 395.75 L288.94 395.98 L289.85 396.21 L290.75 396.44 L291.66 396.67 L292.56 396.90 L293.45 397.12 L294.35 397.35 L295.23 397.59 L296.12 397.82 L297.00 398.05 L297.87 398.28 L298.74 398.51 L299.61 398.74 L300.47 398.98 L301.33 399.21 L302.19 399.44 L303.04 399.68 L303.89 399.91 L304.73 400.14 L305.57 400.38 L306.41 400.61 L307.24 400.85 L308.07 401.09 L308.89 401.32 L309.71 401.56 L310.52 401.80 L311.33 402.03 L312.14 402.27 L312.94 402.51 L313.74 402.75 L314.54 402.99 L315.33 403.23 L316.12 403.47 L316.90 403.71 L317.68 403.95 L318.45 404.19 L319.22 404.43 L319.99 404.68 L320.75 404.92 L321.51 405.16 L322.27 405.40 L323.02 405.65 L323.77 405.89 L324.51 406.14 L325.25 406.38 L325.98 406.63 L326.71 406.88 L327.44 407.12 L328.16 407.37 L328.88 407.62 L329.59 407.87 L330.31 408.11 L331.01 408.36 L331.71 408.61 L332.41 408.86 L333.11 409.11 L333.80 409.36 L334.48 409.62 L335.17 409.87 L335.84 410.12 L336.52 410.37 L337.19 410.63 L337.86 410.88 L338.52 411.14 L339.18 411.39 L339.83 411.65 L340.48 411.90 L341.13 412.16 L341.77 412.42 L342.41 412.68 L343.04 412.94 L343.67 413.19 L344.30 413.45 L344.92 413.71 L345.54 413.98 L346.15 414.24 L346.76 414.50 L347.37 414.76 L347.97 415.02 L348.57 415.29 L349.16 415.55 L349.75 415.82 L350.33 416.08 L350.92 416.35 L351.49 416.62 L352.07 416.88 L352.64 417.15 L353.20 417.42 L353.76 417.69 L354.32 417.96 L354.88 418.23 L355.43 418.50 L355.97 418.78 L356.51 419.05 L357.05 419.32 L357.58 419.60 L358.11 419.87 L358.64 420.15 L359.16 420.42 L359.68 420.70 L360.19 420.98 L360.70 421.26 L361.20 421.54 L361.71 421.82 L362.20 422.10 L362.70 422.38 L363.18 422.66 L363.67 422.95 L364.15 423.23 L364.63 423.51 L365.10 423.80 L365.57 424.09 L366.04 424.37 L366.50 424.66 L366.95 424.95 L367.41 425.24 L367.85 425.53 L368.30 425.82 L368.74 426.12 L369.18 426.41 L369.61 426.71 L370.04 427.00 L370.46 427.30 L370.88 427.60 L371.30 427.89 L371.71 428.19 L372.12 428.49 L372.53 428.80 L372.93 429.10 L373.32 429.40 L373.72 429.71 L374.10 430.01 L374.49 430.32 L374.87 430.63 L375.25 430.94 L375.62 431.25 L375.99 431.56 L376.35 431.87 L376.71 432.18 L377.07 432.50 L377.42 432.81 L377.77 433.13 L378.11 433.45 L378.45 433.77 L378.79 434.09 L379.12 434.41 L379.45 434.74 L379.77 435.06 L380.09 435.39 L380.41 435.72 L380.72 436.05 L381.03 436.38 L381.33 436.71 L381.63 437.04 L381.93 437.38 L382.22 437.72 L382.51 438.06 L382.79 438.40 L383.07 438.74 L383.35 439.08 L383.62 439.43 L383.89 439.77 L384.15 440.12 L384.41 440.47 L384.67 440.83 L384.92 441.18 L385.17 441.54 L385.41 441.90 L385.65 442.26 L385.88 442.62 L386.12 442.99 L386.34 443.35 L386.57 443.72 L386.79 444.09 L387.00 444.47 L387.21 444.84 L387.42 445.22 L387.62 445.61 L387.82 445.99 L388.02 446.38 L388.21 446.77 L388.40 447.16 L388.58 447.55 L388.76 447.95 L388.93 448.35 L389.10 448.76 L389.27 449.17 L389.43 449.58 L389.59 449.99 L389.75 450.41 L389.90 450.83 L390.05 451.26 L390.19 451.69 L390.33 452.13 L390.46 452.56 L390.59 453.01 L390.72 453.46 L390.84 453.91 L390.96 454.37 L391.08 454.83 L391.19 455.30 L391.29 455.78 L391.40 456.26 L391.50 456.75 L391.59 457.24 L391.68 457.75 L391.77 458.26 L391.85 458.78 L391.93 459.31 L392.00 459.84 L392.07 460.39 L392.14 460.95 L392.20 461.52 L392.26 462.11 L392.31 462.71 L392.37 463.32 L392.41 463.96 L392.45 464.61 L392.49 465.28 L392.53 465.99 L392.56 466.72 L392.58 467.49 L392.60 468.30 L392.62 469.18 L392.64 470.13 L392.65 471.20 L392.65 472.48 L392.65 474.70"/>
<path d="M70.60 379.47 L71.53 379.63 L72.46 379.78 L73.39 379.94 L74.31 380.10 L75.23 380.26 L76.15 380.41 L77.07 380.57 L77.98 380.73 L78.89 380.89 L79.80 381.04 L80.71 381.20 L81.61 381.36 L82.52 381.52 L83.42 381.68 L84.32 381.84 L85.21 381.99 L86.11 382.15 L87.00 382.31 L87.89 382.47 L88.77 382.63 L89.66 382.79 L90.54 382.95 L91.42 383.11 L92.29 383.27 L93.17 383.43 L94.04 383.59 L94.91 383.75 L95.78 383.91 L96.64 384.07 L97.51 384.23 L98.37 384.39 L99.23 384.55 L100.08 384.72 L100.94 384.88 L101.79 385.04 L102.64 385.20 L103.48 385.36 L104.33 385.52 L105.17 385.69 L106.01 385.85 L106.85 386.01 L107.68 386.17 L108.52 386.34 L109.35 386.50 L110.18 386.66 L111.00 386.83 L111.82 386.99 L112.65 387.15 L113.46 387.32 L114.28 387.48 L115.10 387.64 L115.91 387.81 L116.72 387.97 L117.52 388.14 L118.33 388.30 L119.13 388.47 L119.93 388.63 L120.73 388.80 L121.53 388.96 L122.32 389.13 L123.11 389.29 L123.90 389.46 L124.68 389.62 L125.47 389.79 L126.25 389.96 L127.03 390.12 L127.81 390.29 L128.58 390.46 L129.35 390.62 L130.12 390.79 L130.89 390.96 L131.66 391.13 L132.42 391.29 L133.18 391.46 L133.94 391.63 L134.69 391.80 L135.45 391.97 L136.20 392.14 L136.95 392.30 L137.69 392.47 L138.44 392.64 L139.18 392.81 L139.92 392.98 L140.66 393.15 L141.39 393.32 L142.13 393.49 L142.86 393.66 L143.58 393.83 L144.31 394.00 L145.03 394.17 L145.75 394.34 L146.47 394.52 L147.19 394.69 L147.90 394.86 L148.62 395.03 L149.32 395.20 L150.03 395.37 L150.74 395.55 L151.44 395.72 L152.14 395.89 L152.84 396.06 L153.53 396.24 L154.23 396.41 L154.92 396.58 L155.60 396.76 L156.29 396.93 L156.97 397.11 L157.66 397.28 L158.33 397.45 L159.01 397.63 L159.69 397.80 L160.36 397.98 L161.03 398.16 L161.70 398.33 L162.36 398.51 L163.02 398.68 L163.68 398.86 L164.34 399.04 L165.00 399.21 L165.65 399.39 L166.30 399.57 L166.95 399.74 L167.60 399.92 L168.24 400.10 L168.88 400.28 L169.52 400.45 L170.16 400.63 L170.79 400.81 L171.43 400.99 L172.06 401.17 L172.69 401.35 L173.31 401.53 L173.93 401.71 L174.55 401.89 L175.17 402.07 L175.79 402.25 L176.40 402.43 L177.02 402.61 L177.62 402.79 L178.23 402.97 L178.84 403.15 L179.44 403.34 L180.04 403.52 L180.64 403.70 L181.23 403.88 L181.82 404.07 L182.41 404.25 L183.00 404.43 L183.59 404.62 L184.17 404.80 L184.75 404.98 L185.33 405.17 L185.91 405.35 L186.48 405.54 L187.05 405.72 L187.62 405.91 L188.19 406.09 L188.76 406.28 L189.32 406.47 L189.88 406.65 L190.44 406.84 L190.99 407.03 L191.55 407.21 L192.10 407.40 L192.65 407.59 L193.19 407.78 L193.74 407.96 L194.28 408.15 L194.82 408.34 L195.35 408.53 L195.89 408.72 L196.42 408.91 L196.95 409.10 L197.48 409.29 L198.00 409.48 L198.53 409.67 L199.05 409.86 L199.57 410.05 L200.08 410.25 L200.60 410.44 L201.11 410.63 L201.62 410.82 L202.12 411.02 L202.63 411.21 L203.13 411.40 L203.63 411.60 L204.13 411.79 L204.62 411.98 L205.11 412.18 L205.60 412.37 L206.09 412.57 L206.58 412.77 L207.06 412.96 L207.54 413.16 L208.02 413.36 L208.50 413.55 L208.97 413.75 L209.44 413.95 L209.91 414.15 L210.38 414.34 L210.85 414.54 L211.31 414.74 L211.77 414.94 L212.23 415.14 L212.68 415.34 L213.13 415.54 L213.59 415.74 L214.03 415.94 L214.48 416.14 L214.92 416.35 L215.37 416.55 L215.80 416.75 L216.24 416.95 L216.68 417.16 L217.11 417.36 L217.54 417.57 L217.97 417.77 L218.39 417.97 L218.81 418.18 L219.23 418.39 L219.65 418.59 L220.07 418.80 L220.48 419.00 L220.89 419.21 L221.30 419.42 L221.71 419.63 L222.11 419.84 L222.51 420.04 L222.91 420.25 L223.31 420.46 L223.71 420.67 L224.10 420.88 L224.49 421.10 L224.88 421.31 L225.26 421.52 L225.64 421.73 L226.03 421.94 L226.40 422.16 L226.78 422.37 L227.15 422.58 L227.53 422.80 L227.90 423.01 L228.26 423.23 L228.63 423.45 L228.99 423.66 L229.35 423.88 L229.71 424.10 L230.06 424.31 L230.41 424.53 L230.77 424.75 L231.11 424.97 L231.46 425.19 L231.80 425.41 L232.14 425.63 L232.48 425.85 L232.82 426.07 L233.15 426.30 L233.49 426.52 L233.82 426.74 L234.14 426.97 L234.47 427.19 L234.79 427.42 L235.11 427.64 L235.43 427.87 L235.75 428.10 L236.06 428.32 L236.37 428.55 L236.68 428.78 L236.98 429.01 L237.29 429.24 L237.59 429.47 L237.89 429.70 L238.19 429.93 L238.48 430.16 L238.77 430.40 L239.06 430.63 L239.35 430.86 L239.64 431.10 L239.92 431.33 L240.20 431.57 L240.48 431.81 L240.76 432.05 L241.03 432.28 L241.30 432.52 L241.57 432.76 L241.84 433.00 L242.10 433.24 L242.36 433.48 L242.62 433.73 L242.88 433.97 L243.13 434.21 L243.39 434.46 L243.64 434.70 L243.89 434.95 L244.13 435.20 L244.38 435.45 L244.62 435.69 L244.86 435.94 L245.09 436.19 L245.33 436.45 L245.56 436.70 L245.79 436.95 L246.01 437.20 L246.24 437.46 L246.46 437.72 L246.68 437.97 L246.90 438.23 L247.12 438.49 L247.33 438.75 L247.54 439.01 L247.75 439.27 L247.95 439.53 L248.16 439.79 L248.36 440.06 L248.56 440.32 L248.76 440.59 L248.95 440.86 L249.14 441.13 L249.33 441.40 L249.52 441.67 L249.70 441.94 L249.89 442.21 L250.07 442.49 L250.25 442.77 L250.42 443.04 L250.60 443.32 L250.77 443.60 L250.94 443.88 L251.10 444.16 L251.27 444.45 L251.43 444.73 L251.59 445.02 L251.75 445.31 L251.90 445.60 L252.05 445.89 L252.20 446.18 L252.35 446.47 L252.50 446.77 L252.64 447.07 L252.78 447.36 L252.92 447.67 L253.06 447.97 L253.19 448.27 L253.32 448.58 L253.45 448.89 L253.58 449.20 L253.70 449.51 L253.82 449.82 L253.94 450.14 L254.06 450.45 L254.18 450.77 L254.29 451.10 L254.40 451.42 L254.51 451.75 L254.62 452.08 L254.72 452.41 L254.82 452.74 L254.92 453.08 L255.02 453.42 L255.11 453.76 L255.20 454.11 L255.29 454.46 L255.38 454.81 L255.46 455.17 L255.55 455.53 L255.63 455.89 L255.71 456.25 L255.78 456.62 L255.85 457.00 L255.93 457.37 L255.99 457.76 L256.06 458.14 L256.13 458.54 L256.19 458.93 L256.25 459.33 L256.30 459.74 L256.36 460.15 L256.41 460.57 L256.46 461.00 L256.51 461.43 L256.55 461.87 L256.60 462.32 L256.64 462.78 L256.68 463.24 L256.71 463.72 L256.75 464.21 L256.78 464.71 L256.81 465.22 L256.83 465.75 L256.86 466.29 L256.88 466.85 L256.90 467.44 L256.92 468.05 L256.93 468.69 L256.95 469.37 L256.96 470.10 L256.96 470.89 L256.97 471.78 L256.97 472.85 L256.97 474.70"/>
<path d="M236.5 56.7 H281.3"/>
</g>
<g fill="none" stroke="#000" stroke-width="1.65">
<rect x="70.60" y="17.60" width="456.80" height="457.10"/>
<path d="M116.28 474.70 V471.00 M116.28 17.60 V21.60 M161.96 474.70 V468.20 M161.96 17.60 V24.60 M207.64 474.70 V471.00 M207.64 17.60 V21.60 M253.32 474.70 V468.20 M253.32 17.60 V24.60 M299.00 474.70 V471.00 M299.00 17.60 V21.60 M344.68 474.70 V468.20 M344.68 17.60 V24.60 M390.36 474.70 V471.00 M390.36 17.60 V21.60 M436.04 474.70 V468.20 M436.04 17.60 V24.60 M481.72 474.70 V471.00 M481.72 17.60 V21.60 M70.60 436.61 H77.50 M527.40 436.61 H520.40 M70.60 398.52 H77.50 M527.40 398.52 H520.40 M70.60 360.43 H77.50 M527.40 360.43 H520.40 M70.60 322.33 H77.50 M527.40 322.33 H520.40 M70.60 284.24 H77.50 M527.40 284.24 H520.40 M70.60 246.15 H77.50 M527.40 246.15 H520.40 M70.60 208.06 H77.50 M527.40 208.06 H520.40 M70.60 169.97 H77.50 M527.40 169.97 H520.40 M70.60 131.88 H77.50 M527.40 131.88 H520.40 M70.60 93.78 H80.10 M527.40 93.78 H516.90 M70.60 55.69 H77.50 M527.40 55.69 H520.40 "/>
</g>
<g fill="#fff" stroke="#000" stroke-width="1.65">
<circle cx="69.70" cy="189.16" r="4.55"/>
<circle cx="78.84" cy="189.96" r="4.55"/>
<circle cx="87.97" cy="189.96" r="4.55"/>
<circle cx="97.11" cy="182.92" r="4.55"/>
<circle cx="106.24" cy="184.44" r="4.55"/>
<circle cx="115.38" cy="185.20" r="4.55"/>
<circle cx="124.52" cy="184.82" r="4.55"/>
<circle cx="133.65" cy="185.97" r="4.55"/>
<circle cx="142.79" cy="187.11" r="4.55"/>
<circle cx="151.92" cy="192.06" r="4.55"/>
<circle cx="161.06" cy="193.77" r="4.55"/>
<circle cx="170.20" cy="195.11" r="4.55"/>
<circle cx="179.33" cy="194.73" r="4.55"/>
<circle cx="188.47" cy="197.77" r="4.55"/>
<circle cx="197.60" cy="197.01" r="4.55"/>
<circle cx="206.74" cy="196.06" r="4.55"/>
<circle cx="215.88" cy="196.06" r="4.55"/>
<circle cx="225.01" cy="196.06" r="4.55"/>
<circle cx="234.15" cy="197.01" r="4.55"/>
<circle cx="243.28" cy="197.77" r="4.55"/>
<circle cx="252.42" cy="198.92" r="4.55"/>
<circle cx="261.56" cy="199.30" r="4.55"/>
<circle cx="270.69" cy="199.30" r="4.55"/>
<circle cx="279.83" cy="198.15" r="4.55"/>
<circle cx="288.96" cy="200.82" r="4.55"/>
<circle cx="298.10" cy="201.20" r="4.55"/>
<circle cx="307.24" cy="201.96" r="4.55"/>
<circle cx="316.37" cy="203.11" r="4.55"/>
<circle cx="325.51" cy="201.58" r="4.55"/>
<circle cx="334.64" cy="201.96" r="4.55"/>
<circle cx="343.78" cy="203.87" r="4.55"/>
<circle cx="352.92" cy="205.01" r="4.55"/>
<circle cx="362.05" cy="206.15" r="4.55"/>
<circle cx="371.19" cy="203.87" r="4.55"/>
<circle cx="380.32" cy="206.15" r="4.55"/>
<circle cx="389.46" cy="205.01" r="4.55"/>
<circle cx="398.60" cy="205.01" r="4.55"/>
<circle cx="407.73" cy="205.77" r="4.55"/>
<circle cx="416.87" cy="204.44" r="4.55"/>
<circle cx="426.00" cy="206.53" r="4.55"/>
<circle cx="435.14" cy="204.25" r="4.55"/>
<circle cx="444.28" cy="206.34" r="4.55"/>
<circle cx="453.41" cy="209.39" r="4.55"/>
<circle cx="462.55" cy="209.20" r="4.55"/>
<circle cx="471.68" cy="209.20" r="4.55"/>
<circle cx="480.82" cy="209.20" r="4.55"/>
<circle cx="489.96" cy="211.30" r="4.55"/>
<circle cx="499.09" cy="209.96" r="4.55"/>
<circle cx="508.23" cy="212.25" r="4.55"/>
<circle cx="517.36" cy="212.25" r="4.55"/>
<circle cx="526.50" cy="211.87" r="4.55"/>
<circle cx="69.70" cy="246.91" r="4.55"/>
<circle cx="78.84" cy="245.77" r="4.55"/>
<circle cx="87.97" cy="250.72" r="4.55"/>
<circle cx="97.11" cy="251.48" r="4.55"/>
<circle cx="106.24" cy="251.86" r="4.55"/>
<circle cx="115.38" cy="252.24" r="4.55"/>
<circle cx="124.52" cy="253.01" r="4.55"/>
<circle cx="133.65" cy="250.34" r="4.55"/>
<circle cx="142.79" cy="248.05" r="4.55"/>
<circle cx="151.92" cy="255.10" r="4.55"/>
<circle cx="161.06" cy="255.48" r="4.55"/>
<circle cx="170.20" cy="258.72" r="4.55"/>
<circle cx="179.33" cy="256.82" r="4.55"/>
<circle cx="188.47" cy="254.91" r="4.55"/>
<circle cx="197.60" cy="257.20" r="4.55"/>
<circle cx="206.74" cy="258.15" r="4.55"/>
<circle cx="215.88" cy="258.72" r="4.55"/>
<circle cx="225.01" cy="259.86" r="4.55"/>
<circle cx="234.15" cy="261.77" r="4.55"/>
<circle cx="243.28" cy="261.01" r="4.55"/>
<circle cx="252.42" cy="263.67" r="4.55"/>
<circle cx="261.56" cy="263.67" r="4.55"/>
<circle cx="270.69" cy="263.67" r="4.55"/>
<circle cx="279.83" cy="263.29" r="4.55"/>
<circle cx="288.96" cy="261.77" r="4.55"/>
<circle cx="298.10" cy="268.24" r="4.55"/>
<circle cx="307.24" cy="269.96" r="4.55"/>
<circle cx="316.37" cy="269.20" r="4.55"/>
<circle cx="325.51" cy="272.43" r="4.55"/>
<circle cx="334.64" cy="272.05" r="4.55"/>
<circle cx="343.78" cy="276.24" r="4.55"/>
<circle cx="352.92" cy="279.67" r="4.55"/>
<circle cx="362.05" cy="278.53" r="4.55"/>
<circle cx="371.19" cy="278.53" r="4.55"/>
<circle cx="380.32" cy="277.77" r="4.55"/>
<circle cx="389.46" cy="278.91" r="4.55"/>
<circle cx="398.60" cy="281.77" r="4.55"/>
<circle cx="407.73" cy="280.81" r="4.55"/>
<circle cx="416.87" cy="283.10" r="4.55"/>
<circle cx="426.00" cy="282.34" r="4.55"/>
<circle cx="435.14" cy="284.24" r="4.55"/>
<circle cx="444.28" cy="284.24" r="4.55"/>
<circle cx="453.41" cy="285.00" r="4.55"/>
<circle cx="462.55" cy="285.00" r="4.55"/>
<circle cx="471.68" cy="286.53" r="4.55"/>
<circle cx="480.82" cy="286.91" r="4.55"/>
<circle cx="489.96" cy="289.57" r="4.55"/>
<circle cx="499.09" cy="287.29" r="4.55"/>
<circle cx="508.23" cy="291.10" r="4.55"/>
<circle cx="517.36" cy="289.19" r="4.55"/>
<circle cx="526.50" cy="292.24" r="4.55"/>
<circle cx="69.70" cy="281.35" r="4.55"/>
<circle cx="78.84" cy="280.24" r="4.55"/>
<circle cx="87.97" cy="279.29" r="4.55"/>
<circle cx="97.11" cy="283.10" r="4.55"/>
<circle cx="106.24" cy="281.35" r="4.55"/>
<circle cx="115.38" cy="283.10" r="4.55"/>
<circle cx="124.52" cy="283.10" r="4.55"/>
<circle cx="133.65" cy="283.10" r="4.55"/>
<circle cx="142.79" cy="282.34" r="4.55"/>
<circle cx="151.92" cy="286.15" r="4.55"/>
<circle cx="161.06" cy="288.81" r="4.55"/>
<circle cx="170.20" cy="285.00" r="4.55"/>
<circle cx="179.33" cy="285.38" r="4.55"/>
<circle cx="188.47" cy="286.53" r="4.55"/>
<circle cx="197.60" cy="288.81" r="4.55"/>
<circle cx="206.74" cy="289.57" r="4.55"/>
<circle cx="215.88" cy="287.67" r="4.55"/>
<circle cx="225.01" cy="288.81" r="4.55"/>
<circle cx="234.15" cy="287.29" r="4.55"/>
<circle cx="243.28" cy="287.67" r="4.55"/>
<circle cx="252.42" cy="288.81" r="4.55"/>
<circle cx="261.56" cy="290.72" r="4.55"/>
<circle cx="270.69" cy="292.62" r="4.55"/>
<circle cx="279.83" cy="289.96" r="4.55"/>
<circle cx="288.96" cy="292.62" r="4.55"/>
<circle cx="298.10" cy="294.91" r="4.55"/>
<circle cx="307.24" cy="296.81" r="4.55"/>
<circle cx="316.37" cy="298.34" r="4.55"/>
<circle cx="325.51" cy="294.53" r="4.55"/>
<circle cx="334.64" cy="296.43" r="4.55"/>
<circle cx="343.78" cy="296.43" r="4.55"/>
<circle cx="352.92" cy="296.43" r="4.55"/>
<circle cx="362.05" cy="296.43" r="4.55"/>
<circle cx="371.19" cy="297.95" r="4.55"/>
<circle cx="380.32" cy="297.95" r="4.55"/>
<circle cx="389.46" cy="300.62" r="4.55"/>
<circle cx="398.60" cy="300.62" r="4.55"/>
<circle cx="407.73" cy="303.67" r="4.55"/>
<circle cx="416.87" cy="307.48" r="4.55"/>
<circle cx="426.00" cy="304.43" r="4.55"/>
<circle cx="435.14" cy="306.72" r="4.55"/>
<circle cx="444.28" cy="305.57" r="4.55"/>
<circle cx="453.41" cy="306.33" r="4.55"/>
<circle cx="69.70" cy="319.29" r="4.55"/>
<circle cx="78.84" cy="319.29" r="4.55"/>
<circle cx="87.97" cy="324.43" r="4.55"/>
<circle cx="97.11" cy="324.05" r="4.55"/>
<circle cx="106.24" cy="324.43" r="4.55"/>
<circle cx="115.38" cy="323.10" r="4.55"/>
<circle cx="124.52" cy="327.67" r="4.55"/>
<circle cx="133.65" cy="331.86" r="4.55"/>
<circle cx="142.79" cy="336.05" r="4.55"/>
<circle cx="151.92" cy="337.57" r="4.55"/>
<circle cx="161.06" cy="337.00" r="4.55"/>
<circle cx="170.20" cy="338.71" r="4.55"/>
<circle cx="179.33" cy="337.57" r="4.55"/>
<circle cx="188.47" cy="339.09" r="4.55"/>
<circle cx="197.60" cy="341.00" r="4.55"/>
<circle cx="206.74" cy="344.81" r="4.55"/>
<circle cx="215.88" cy="346.71" r="4.55"/>
<circle cx="225.01" cy="349.00" r="4.55"/>
<circle cx="234.15" cy="349.38" r="4.55"/>
<circle cx="243.28" cy="350.52" r="4.55"/>
<circle cx="252.42" cy="353.95" r="4.55"/>
<circle cx="261.56" cy="353.38" r="4.55"/>
<circle cx="270.69" cy="353.76" r="4.55"/>
<circle cx="279.83" cy="353.76" r="4.55"/>
<circle cx="288.96" cy="355.09" r="4.55"/>
<circle cx="298.10" cy="356.81" r="4.55"/>
<circle cx="307.24" cy="358.90" r="4.55"/>
<circle cx="316.37" cy="362.71" r="4.55"/>
<circle cx="325.51" cy="364.81" r="4.55"/>
<circle cx="334.64" cy="365.76" r="4.55"/>
<circle cx="343.78" cy="366.14" r="4.55"/>
<circle cx="352.92" cy="368.61" r="4.55"/>
<circle cx="362.05" cy="371.47" r="4.55"/>
<circle cx="371.19" cy="379.85" r="4.55"/>
<circle cx="380.32" cy="381.38" r="4.55"/>
<circle cx="389.46" cy="379.47" r="4.55"/>
<circle cx="398.60" cy="379.47" r="4.55"/>
<circle cx="407.73" cy="381.95" r="4.55"/>
<circle cx="416.87" cy="383.66" r="4.55"/>
<circle cx="426.00" cy="386.33" r="4.55"/>
<circle cx="435.14" cy="385.18" r="4.55"/>
<circle cx="444.28" cy="385.95" r="4.55"/>
<circle cx="453.41" cy="389.76" r="4.55"/>
<circle cx="462.55" cy="392.80" r="4.55"/>
<circle cx="471.68" cy="391.66" r="4.55"/>
<circle cx="69.70" cy="360.81" r="4.55"/>
<circle cx="78.84" cy="360.81" r="4.55"/>
<circle cx="87.97" cy="363.09" r="4.55"/>
<circle cx="97.11" cy="364.62" r="4.55"/>
<circle cx="106.24" cy="362.71" r="4.55"/>
<circle cx="115.38" cy="368.61" r="4.55"/>
<circle cx="124.52" cy="369.57" r="4.55"/>
<circle cx="133.65" cy="368.61" r="4.55"/>
<circle cx="142.79" cy="372.23" r="4.55"/>
<circle cx="151.92" cy="374.14" r="4.55"/>
<circle cx="161.06" cy="376.80" r="4.55"/>
<circle cx="170.20" cy="379.47" r="4.55"/>
<circle cx="179.33" cy="382.90" r="4.55"/>
<circle cx="188.47" cy="388.04" r="4.55"/>
<circle cx="197.60" cy="384.42" r="4.55"/>
<circle cx="206.74" cy="388.99" r="4.55"/>
<circle cx="215.88" cy="393.56" r="4.55"/>
<circle cx="225.01" cy="391.66" r="4.55"/>
<circle cx="234.15" cy="394.71" r="4.55"/>
<circle cx="243.28" cy="396.04" r="4.55"/>
<circle cx="252.42" cy="394.90" r="4.55"/>
<circle cx="261.56" cy="401.18" r="4.55"/>
<circle cx="270.69" cy="406.52" r="4.55"/>
<circle cx="279.83" cy="412.23" r="4.55"/>
<circle cx="288.96" cy="410.90" r="4.55"/>
<circle cx="298.10" cy="414.13" r="4.55"/>
<circle cx="307.24" cy="419.09" r="4.55"/>
<circle cx="316.37" cy="424.04" r="4.55"/>
<circle cx="325.51" cy="423.85" r="4.55"/>
<circle cx="334.64" cy="429.56" r="4.55"/>
<circle cx="343.78" cy="438.51" r="4.55"/>
<circle cx="352.92" cy="443.66" r="4.55"/>
<circle cx="362.05" cy="448.23" r="4.55"/>
<circle cx="371.19" cy="453.37" r="4.55"/>
<circle cx="380.32" cy="463.08" r="4.55"/>
<circle cx="69.70" cy="374.90" r="4.55"/>
<circle cx="78.84" cy="375.66" r="4.55"/>
<circle cx="87.97" cy="373.76" r="4.55"/>
<circle cx="97.11" cy="376.80" r="4.55"/>
<circle cx="106.24" cy="380.23" r="4.55"/>
<circle cx="115.38" cy="384.04" r="4.55"/>
<circle cx="124.52" cy="388.99" r="4.55"/>
<circle cx="133.65" cy="396.80" r="4.55"/>
<circle cx="142.79" cy="397.37" r="4.55"/>
<circle cx="151.92" cy="401.37" r="4.55"/>
<circle cx="161.06" cy="406.71" r="4.55"/>
<circle cx="170.20" cy="410.71" r="4.55"/>
<circle cx="179.33" cy="424.04" r="4.55"/>
<circle cx="188.47" cy="436.61" r="4.55"/>
<circle cx="197.60" cy="454.51" r="4.55"/>
<circle cx="206.74" cy="465.94" r="4.55"/>
<circle cx="268.5" cy="148.2" r="4.4"/>
</g>
<g font-size="24.5" stroke="#000" stroke-width="0.3">
<text x="66.3" y="483.40" text-anchor="end">0</text>
<text x="66.3" y="407.22" text-anchor="end">20</text>
<text x="66.3" y="331.03" text-anchor="end">40</text>
<text x="66.3" y="254.85" text-anchor="end">60</text>
<text x="66.3" y="178.67" text-anchor="end">80</text>
<text x="66.3" y="102.48" text-anchor="end">100</text>
<text x="66.3" y="26.30" text-anchor="end">120</text>
<text x="70.60" y="501.0" text-anchor="middle">0</text>
<text x="161.96" y="501.0" text-anchor="middle">100</text>
<text x="253.32" y="501.0" text-anchor="middle">200</text>
<text x="344.68" y="501.0" text-anchor="middle">300</text>
<text x="436.04" y="501.0" text-anchor="middle">400</text>
<text x="527.40" y="501.0" text-anchor="middle">500</text>
<text x="236" y="533.2" textLength="56" lengthAdjust="spacingAndGlyphs">Time</text>
<text x="320.8" y="533.2" font-style="italic">t</text>
<text x="356" y="533.2">s</text>
<text transform="translate(20.1 389.2) rotate(-90)" textLength="152.2" lengthAdjust="spacingAndGlyphs">Bubble radius</text>
<text transform="translate(20.7 193) rotate(-90)" font-style="italic">r</text>
<text transform="translate(20.7 142.3) rotate(-90) scale(1.27 1)" class="cjk" stroke="none">μ</text>
<text transform="translate(20.7 120.8) rotate(-90)">m</text>
<text x="295.3" y="63.2" textLength="76.6" lengthAdjust="spacingAndGlyphs">Theory</text>
<text x="295.3" y="89.9" class="ser" font-size="29">σ</text>
<text x="316.9" y="89.9" textLength="70.3" lengthAdjust="spacingAndGlyphs">= 36.3</text>
<text x="393.2" y="90.6" font-size="28.5">×</text>
<text x="414.5" y="89.9">10</text>
<text x="443" y="76.6" font-size="17">−3</text>
<text x="470" y="89.9" textLength="46" lengthAdjust="spacingAndGlyphs">N/m</text>
<text x="294.7" y="115.1" textLength="29.2" lengthAdjust="spacingAndGlyphs">20</text>
<text x="324.6" y="103.9" font-size="17">o</text>
<text x="331.1" y="115.1">C</text>
<text x="295.3" y="154.6" textLength="127.5" lengthAdjust="spacingAndGlyphs">Experiment</text>
</g>
</svg></body></html>
